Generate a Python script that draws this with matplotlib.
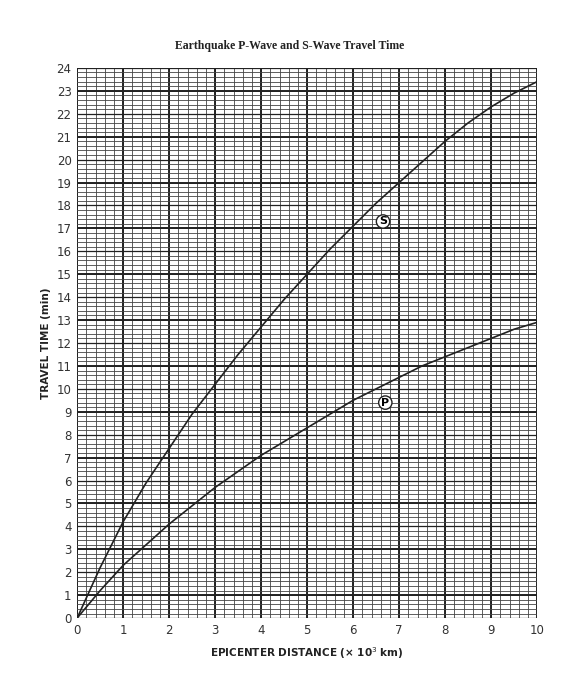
import matplotlib
matplotlib.use("Agg")
import matplotlib.pyplot as plt
import numpy as np

dist = [0, 0.5, 1, 1.5, 2, 2.5, 3, 3.5, 4, 4.5, 5, 5.5, 6, 6.5, 7, 7.5, 8, 8.5, 9, 9.5, 10]
s_time = [0, 2.2, 4.2, 5.9, 7.4, 8.9, 10.2, 11.5, 12.7, 13.9, 15.0, 16.1, 17.1, 18.1, 19.0, 19.9, 20.8, 21.6, 22.3, 22.9, 23.4]
p_time = [0, 1.2, 2.3, 3.2, 4.1, 4.9, 5.7, 6.4, 7.1, 7.7, 8.3, 8.9, 9.5, 10.0, 10.5, 11.0, 11.4, 11.8, 12.2, 12.6, 12.9]
xticks = list(range(0, 11))
yticks = list(range(0, 25))

fig = plt.figure(figsize=(5.63, 7.0), dpi=100)
ax = fig.add_axes([0.137, 0.117, 0.817, 0.786])
ax.set_xlim(0, 10)
ax.set_ylim(0, 24)
for v in np.arange(0, 10.01, 0.2):
    ax.axvline(v, color='#444', lw=0.6, zorder=1)
for v in xticks:
    ax.axvline(v, color='#222', lw=1.4, zorder=1)
for v in np.arange(0, 24.01, 0.2):
    ax.axhline(v, color='#444', lw=0.6, zorder=1)
for v in yticks:
    ax.axhline(v, color='#222', lw=1.4 if v % 2 == 1 else 0.9, zorder=1)
ax.plot(dist, s_time, color='#222', lw=1.2, zorder=3)
ax.plot(dist, p_time, color='#222', lw=1.2, zorder=3)
for lbl, x, y in [('S', 6.65, 17.3), ('P', 6.7, 9.4)]:
    ax.text(x, y, lbl, ha='center', va='center', fontsize=8, fontweight='bold', zorder=4,
            bbox=dict(boxstyle='circle,pad=0.15', fc='white', ec='#222', lw=1))
ax.set_xticks(xticks)
ax.set_yticks(yticks)
ax.tick_params(length=0, labelsize=8.5, colors='#333', pad=4)
for s in ax.spines.values():
    s.set_visible(False)
ax.set_xlabel('EPICENTER DISTANCE (× 10$^3$ km)', fontsize=7.5, fontweight='bold', color='#222', labelpad=6)
ax.set_ylabel('TRAVEL TIME (min)', fontsize=7.5, fontweight='bold', color='#222', labelpad=4)
fig.text(0.515, 0.935, 'Earthquake P-Wave and S-Wave Travel Time', ha='center', va='center',
         fontsize=8.5, fontweight='bold', family='Liberation Serif', color='#222')
fig.savefig('out.png', dpi=100)
